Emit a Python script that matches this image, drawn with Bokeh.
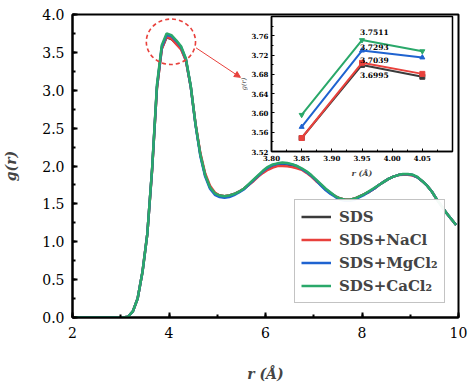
from bokeh.plotting import figure
from bokeh.models import (SingleIntervalTicker, Legend, LegendItem, Arrow, NormalHead,
                          NumeralTickFormatter, ColumnDataSource, GridBox)
from bokeh.embed import file_html
from bokeh.resources import INLINE
from bokeh.core.properties import value

# ---------------- data ----------------
r = [2.05, 2.15, 2.25, 2.35, 2.45, 2.55, 2.65, 2.75, 2.85, 2.95,
     3.05, 3.15, 3.25, 3.35, 3.45, 3.55, 3.65, 3.75, 3.85, 3.95,
     4.05, 4.15, 4.25, 4.35, 4.45, 4.55, 4.65, 4.75, 4.85, 4.95,
     5.05, 5.15, 5.25, 5.35, 5.45, 5.55, 5.65, 5.75, 5.85, 5.95,
     6.05, 6.15, 6.25, 6.35, 6.45, 6.55, 6.65, 6.75, 6.85, 6.95,
     7.05, 7.15, 7.25, 7.35, 7.45, 7.55, 7.65, 7.75, 7.85, 7.95,
     8.05, 8.15, 8.25, 8.35, 8.45, 8.55, 8.65, 8.75, 8.85, 8.95,
     9.05, 9.15, 9.25, 9.35, 9.45, 9.55, 9.65, 9.75, 9.85, 9.95]

g_sds = [0, 0, 0, 0, 0, 0, 0, 0, 0, 0,
         0.0, 0.01, 0.08, 0.25, 0.60, 1.10, 1.95, 3.03, 3.548, 3.6995,
         3.675, 3.62, 3.55, 3.40, 3.05, 2.55, 2.15, 1.88, 1.72, 1.64,
         1.61, 1.60, 1.61, 1.63, 1.66, 1.70, 1.75, 1.81, 1.87, 1.93,
         1.97, 2.00, 2.02, 2.025, 2.02, 2.01, 1.99, 1.96, 1.92, 1.87,
         1.81, 1.75, 1.69, 1.64, 1.60, 1.57, 1.555, 1.555, 1.57, 1.60,
         1.63, 1.66, 1.70, 1.75, 1.79, 1.83, 1.86, 1.88, 1.89, 1.89,
         1.88, 1.85, 1.80, 1.74, 1.66, 1.56, 1.47, 1.38, 1.30, 1.22]

g_nacl = [0, 0, 0, 0, 0, 0, 0, 0, 0, 0,
          0.0, 0.01, 0.08, 0.25, 0.60, 1.10, 1.95, 3.03, 3.548, 3.7039,
          3.681, 3.61, 3.54, 3.39, 3.05, 2.56, 2.17, 1.90, 1.74, 1.65,
          1.61, 1.60, 1.61, 1.63, 1.66, 1.70, 1.75, 1.80, 1.86, 1.91,
          1.95, 1.98, 2.00, 2.00, 1.995, 1.985, 1.97, 1.95, 1.91, 1.86,
          1.80, 1.75, 1.69, 1.64, 1.60, 1.57, 1.555, 1.555, 1.57, 1.60,
          1.63, 1.66, 1.70, 1.75, 1.79, 1.83, 1.86, 1.88, 1.885, 1.885,
          1.875, 1.85, 1.80, 1.74, 1.66, 1.56, 1.47, 1.38, 1.30, 1.22]

g_mgcl2 = [0, 0, 0, 0, 0, 0, 0, 0, 0, 0,
           0.0, 0.01, 0.08, 0.25, 0.60, 1.10, 1.96, 3.05, 3.571, 3.7293,
           3.715, 3.65, 3.57, 3.41, 3.05, 2.54, 2.13, 1.86, 1.70, 1.62,
           1.59, 1.58, 1.59, 1.615, 1.65, 1.69, 1.75, 1.81, 1.87, 1.93,
           1.98, 2.01, 2.03, 2.035, 2.03, 2.02, 2.00, 1.96, 1.92, 1.87,
           1.81, 1.74, 1.68, 1.63, 1.59, 1.555, 1.54, 1.54, 1.555, 1.59,
           1.62, 1.66, 1.70, 1.75, 1.79, 1.83, 1.86, 1.88, 1.89, 1.89,
           1.88, 1.85, 1.80, 1.74, 1.66, 1.56, 1.47, 1.38, 1.30, 1.22]

g_cacl2 = [0, 0, 0, 0, 0, 0, 0, 0, 0, 0,
           0.0, 0.01, 0.08, 0.25, 0.60, 1.10, 1.97, 3.07, 3.596, 3.7511,
           3.728, 3.66, 3.58, 3.42, 3.06, 2.55, 2.15, 1.88, 1.72, 1.64,
           1.61, 1.60, 1.61, 1.63, 1.66, 1.70, 1.76, 1.82, 1.88, 1.94,
           1.99, 2.02, 2.035, 2.045, 2.04, 2.025, 2.00, 1.97, 1.93, 1.88,
           1.82, 1.76, 1.70, 1.65, 1.60, 1.57, 1.555, 1.555, 1.57, 1.60,
           1.63, 1.67, 1.71, 1.75, 1.79, 1.83, 1.86, 1.88, 1.895, 1.895,
           1.885, 1.855, 1.80, 1.74, 1.66, 1.56, 1.47, 1.38, 1.30, 1.22]

series_names = ["SDS", "SDS+NaCl", "SDS+MgCl\u2082", "SDS+CaCl\u2082"]
series_colors = ["#3b3b3b", "#e8413c", "#1f63d0", "#2aa86a"]

# inset zoom window (first peak points)
inset_idx = [18, 19, 20]
peak_idx = 19
peak_labels = ["3.6995", "3.7039", "3.7293", "3.7511"]

FONT = "DejaVu Serif"

all_series = [g_sds, g_nacl, g_mgcl2, g_cacl2]

# ---------------- main figure ----------------
p = figure(width=474, height=387, x_range=(2, 10), y_range=(0, 4),
           output_backend="svg", toolbar_location=None,
           min_border_left=62, min_border_right=10, min_border_top=8, min_border_bottom=58)
p.xgrid.visible = False
p.ygrid.visible = False
p.outline_line_color = "black"
p.outline_line_width = 2
p.outline_line_alpha = 1

renderers = []
for ys, c in zip(all_series, series_colors):
    renderers.append(p.line(r, ys, line_color=c, line_width=2.5))

p.xaxis.ticker = SingleIntervalTicker(interval=2, num_minor_ticks=2)
p.yaxis.ticker = SingleIntervalTicker(interval=0.5, num_minor_ticks=2)
p.yaxis.formatter = NumeralTickFormatter(format="0.0")
for ax in (p.xaxis[0], p.yaxis[0]):
    ax.axis_line_width = 2
    ax.major_tick_in = 5
    ax.major_tick_out = 0
    ax.minor_tick_in = 3
    ax.minor_tick_out = 0
    ax.major_tick_line_width = 2
    ax.minor_tick_line_width = 2
    ax.major_label_text_font = FONT
    ax.major_label_text_font_size = "14px"
    ax.major_label_text_color = "black"
    ax.axis_label_text_font = FONT
p.xaxis.major_label_standoff = 9
p.yaxis.major_label_standoff = 8
p.yaxis.axis_label = "g(r)"
p.yaxis.axis_label_text_font_style = "bold italic"
p.yaxis.axis_label_text_font_size = "14px"
p.yaxis.axis_label_standoff = 20
p.xaxis.axis_label = "r (Å)"
p.xaxis.axis_label_text_font_style = "bold italic"
p.xaxis.axis_label_text_font_size = "14px"
p.xaxis.axis_label_standoff = 25

# dashed highlight around the first peak + arrow to the inset
p.ellipse(x=[4.04], y=[3.64], width=1.02, height=0.60, fill_alpha=0,
          line_color="#e8413c", line_dash="4 3", line_width=1.6)
p.add_layout(Arrow(end=NormalHead(size=6, fill_color="#e8413c", line_color="#e8413c"),
                   x_start=4.56, y_start=3.56, x_end=5.48, y_end=3.17,
                   line_color="#e8413c", line_width=1))

legend = Legend(items=[LegendItem(label=n, renderers=[rr]) for n, rr in zip(series_names, renderers)],
                location=(222, 14))
legend.label_text_font = FONT
legend.label_text_font_style = "bold"
legend.label_text_font_size = "15px"
legend.label_height = 21
legend.glyph_height = 21
legend.glyph_width = 30
legend.label_standoff = 8
legend.spacing = 2
legend.padding = 6
legend.margin = 0
legend.border_line_color = "#888888"
legend.border_line_width = 1
p.add_layout(legend)

# ---------------- inset ----------------
inset = figure(width=269, height=219, x_range=(3.80, 4.10), y_range=(3.52, 3.80),
               output_backend="svg", toolbar_location=None,
               min_border_left=70, min_border_right=16, min_border_top=14, min_border_bottom=70,
               border_fill_alpha=0, background_fill_color="white")
inset.xgrid.visible = False
inset.ygrid.visible = False
inset.outline_line_color = "black"
inset.outline_line_width = 1.5
inset.outline_line_alpha = 1

markers = ["square", "square", "triangle", "inverted_triangle"]
for ys, c, m in zip(all_series, series_colors, markers):
    xs = [r[i] for i in inset_idx]
    yv = [ys[i] for i in inset_idx]
    inset.line(xs, yv, line_color=c, line_width=2)
    inset.scatter(xs, yv, marker=m, size=5, fill_color=c, line_color=c)

lab_src = ColumnDataSource(dict(
    x=[r[peak_idx]] * 4,
    y=[s[peak_idx] for s in all_series],
    text=peak_labels,
    yoff=[10.5, -3, -4, -7.6],
))
inset.text(x="x", y="y", text="text", source=lab_src, x_offset=-2, y_offset="yoff",
           text_font=value(FONT), text_font_style="bold",
           text_font_size="7.5px", text_align="left", text_baseline="middle", text_color="black")

inset.xaxis.ticker = SingleIntervalTicker(interval=0.05, num_minor_ticks=2)
inset.yaxis.ticker = SingleIntervalTicker(interval=0.04, num_minor_ticks=2)
inset.xaxis.formatter = NumeralTickFormatter(format="0.00")
inset.yaxis.formatter = NumeralTickFormatter(format="0.00")
for ax in (inset.xaxis[0], inset.yaxis[0]):
    ax.axis_line_width = 1.5
    ax.major_tick_in = 3
    ax.major_tick_out = 0
    ax.minor_tick_in = 2
    ax.minor_tick_out = 0
    ax.major_label_text_font = FONT
    ax.major_label_text_font_style = "bold"
    ax.major_label_text_font_size = "7px"
    ax.major_label_text_color = "black"
    ax.axis_label_text_font = FONT
inset.xaxis.major_label_standoff = 3
inset.yaxis.major_label_standoff = 3
inset.xaxis.axis_label = "r (Å)"
inset.xaxis.axis_label_text_font_style = "bold italic"
inset.xaxis.axis_label_text_font_size = "8px"
inset.xaxis.axis_label_standoff = 4
inset.yaxis.axis_label = "g(r)"
inset.yaxis.axis_label_text_font_style = "italic"
inset.yaxis.axis_label_text_font_size = "6.5px"
inset.yaxis.axis_label_standoff = 0

# overlay the inset on the main plot: both in the same grid cell, inset pushed by margins
inset.margin = (2, 0, 0, 199)
layout = GridBox(children=[(p, 0, 0), (inset, 0, 0)])

open("out.html", "w").write(file_html(layout, INLINE))
